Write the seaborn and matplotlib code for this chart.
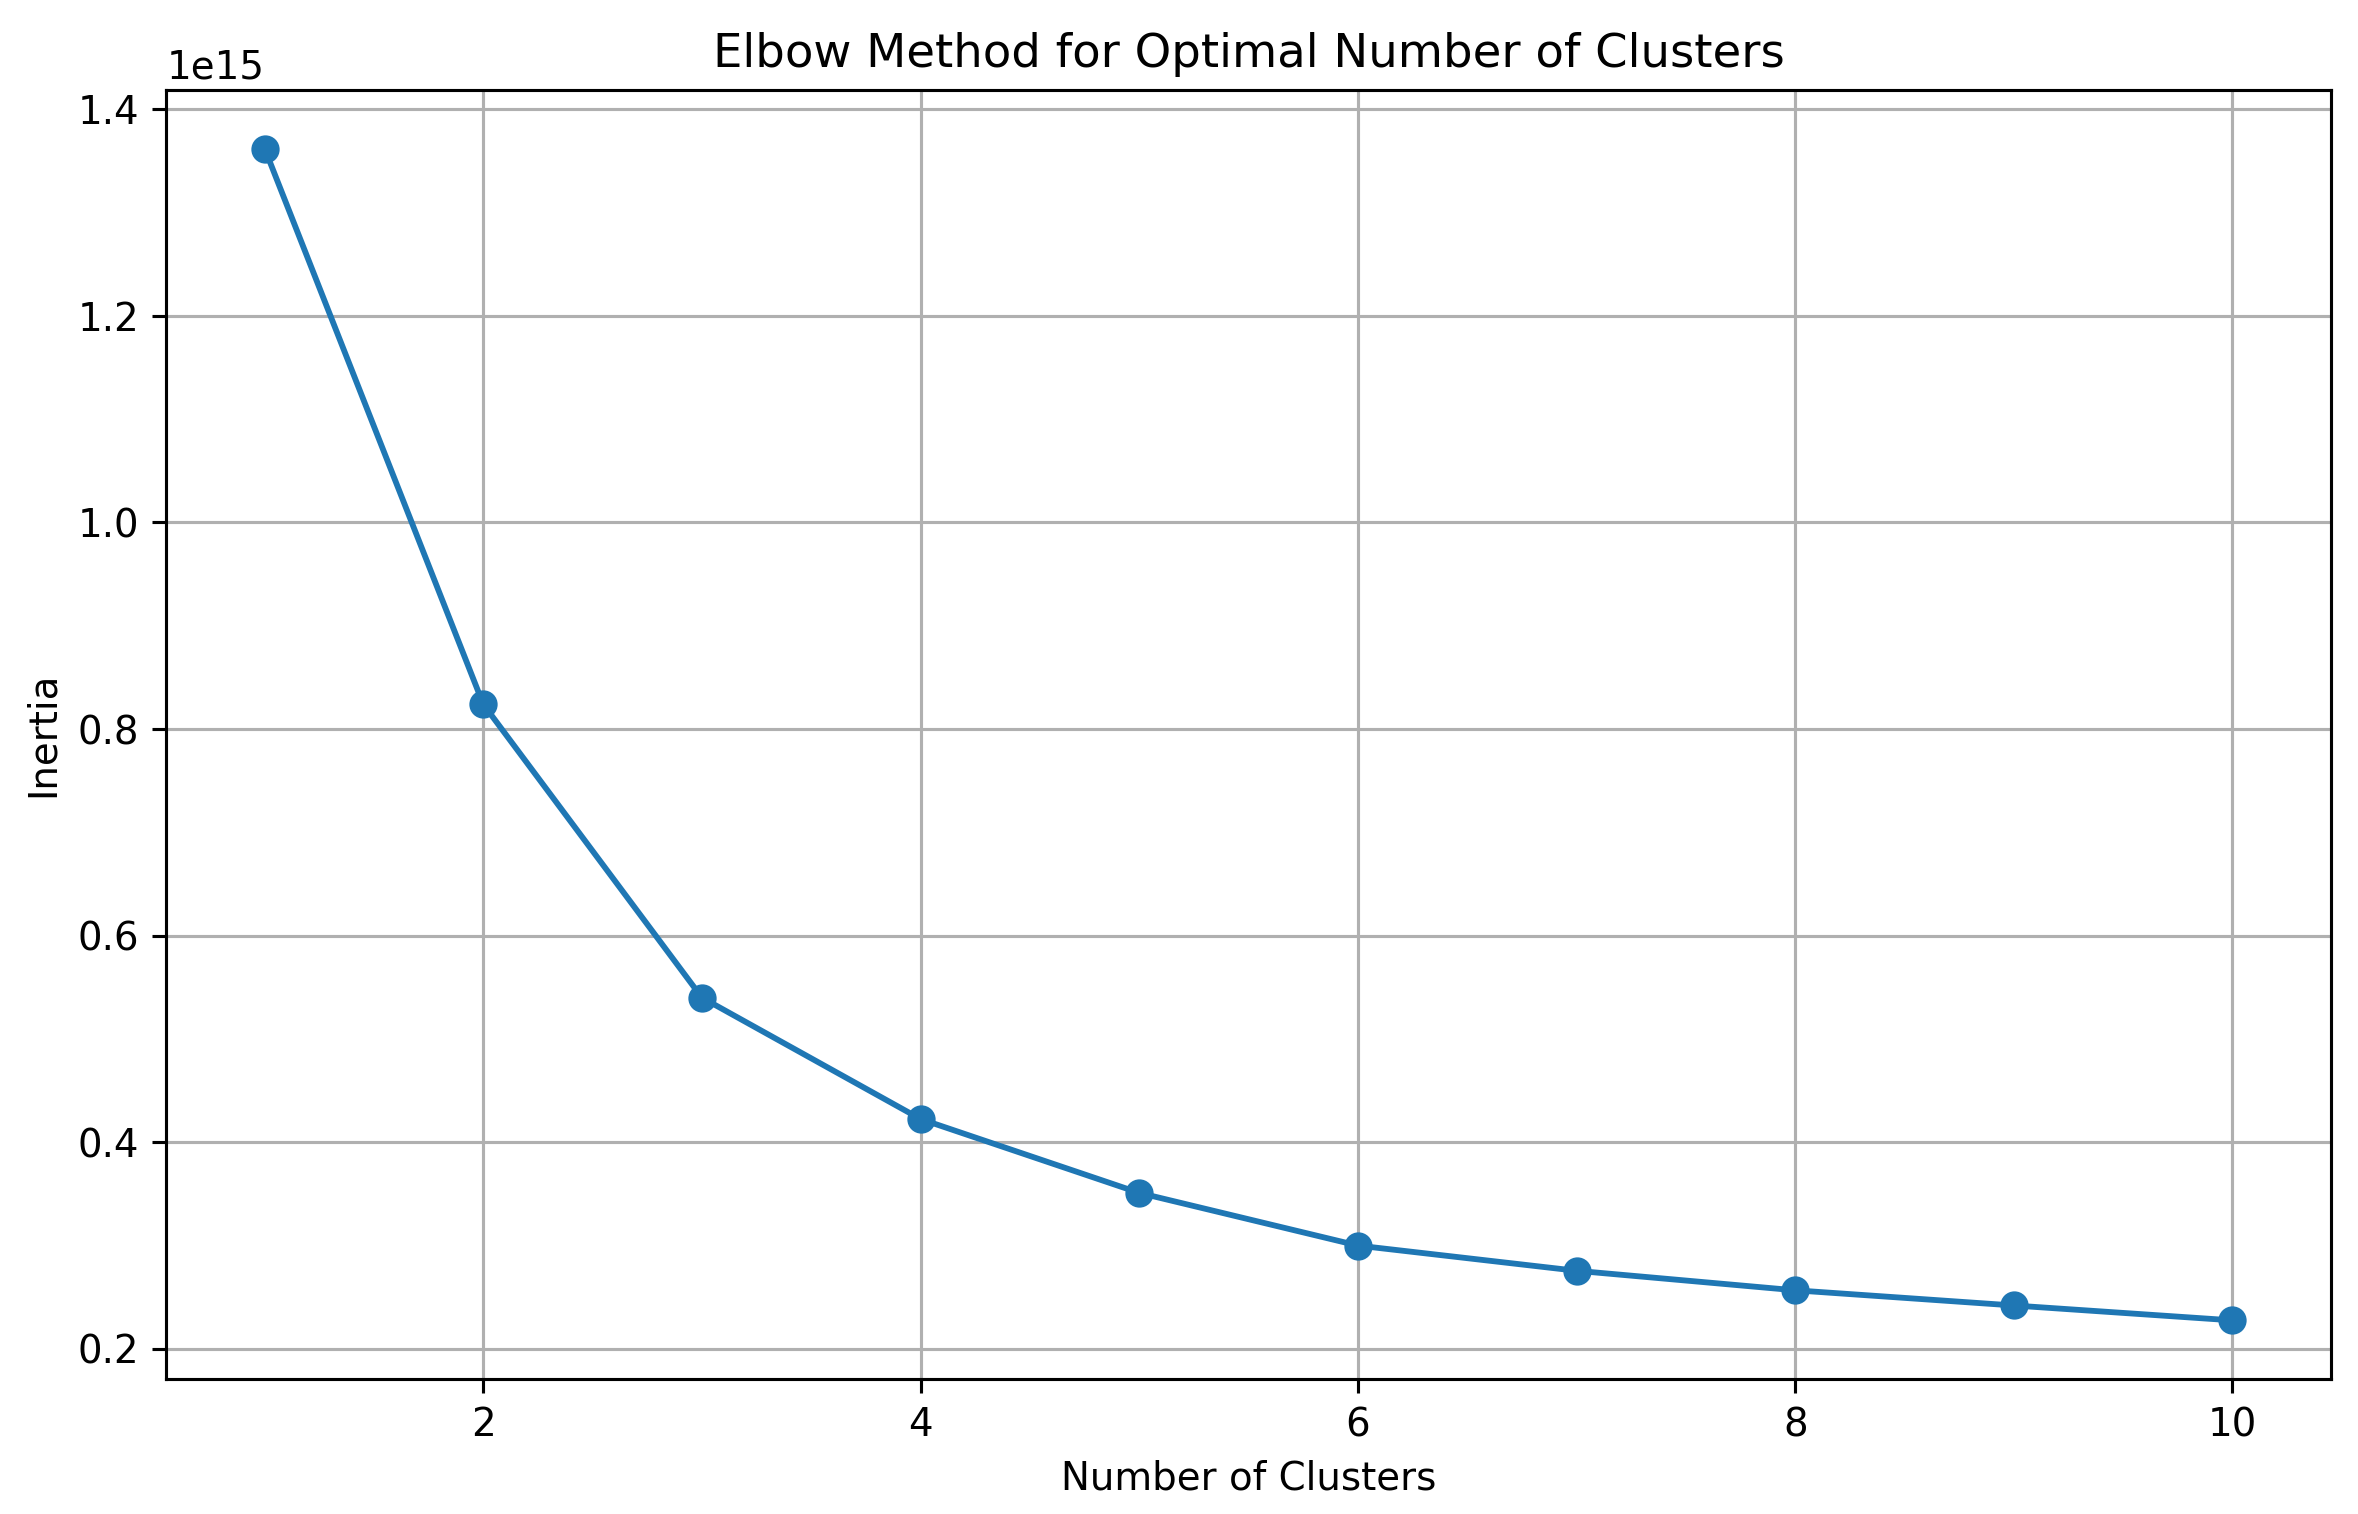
import matplotlib
matplotlib.use("Agg")
import matplotlib.pyplot as plt
import seaborn as sns
import pandas as pd

clusters = [1, 2, 3, 4, 5, 6, 7, 8, 9, 10]
inertia = [1.362e15, 0.824e15, 0.540e15, 0.4225e15, 0.351e15,
           0.300e15, 0.2756e15, 0.2567e15, 0.242e15, 0.2276e15]

df = pd.DataFrame({"k": clusters, "inertia": inertia})

DPI = 279
fig, ax = plt.subplots(figsize=(2358 / DPI, 1514 / DPI), dpi=DPI)
fig.subplots_adjust(left=0.0705, right=0.9885, top=0.9406, bottom=0.0892)

sns.lineplot(data=df, x="k", y="inertia", ax=ax, marker="o", markersize=6.3,
             color="#1f77b4", markeredgecolor="#1f77b4", markeredgewidth=1.0,
             linewidth=1.5)

ax.set_title("Elbow Method for Optimal Number of Clusters")
ax.set_xlabel("Number of Clusters")
ax.set_ylabel("Inertia")
ax.grid(True)

fig.savefig("out.png", dpi=DPI)
